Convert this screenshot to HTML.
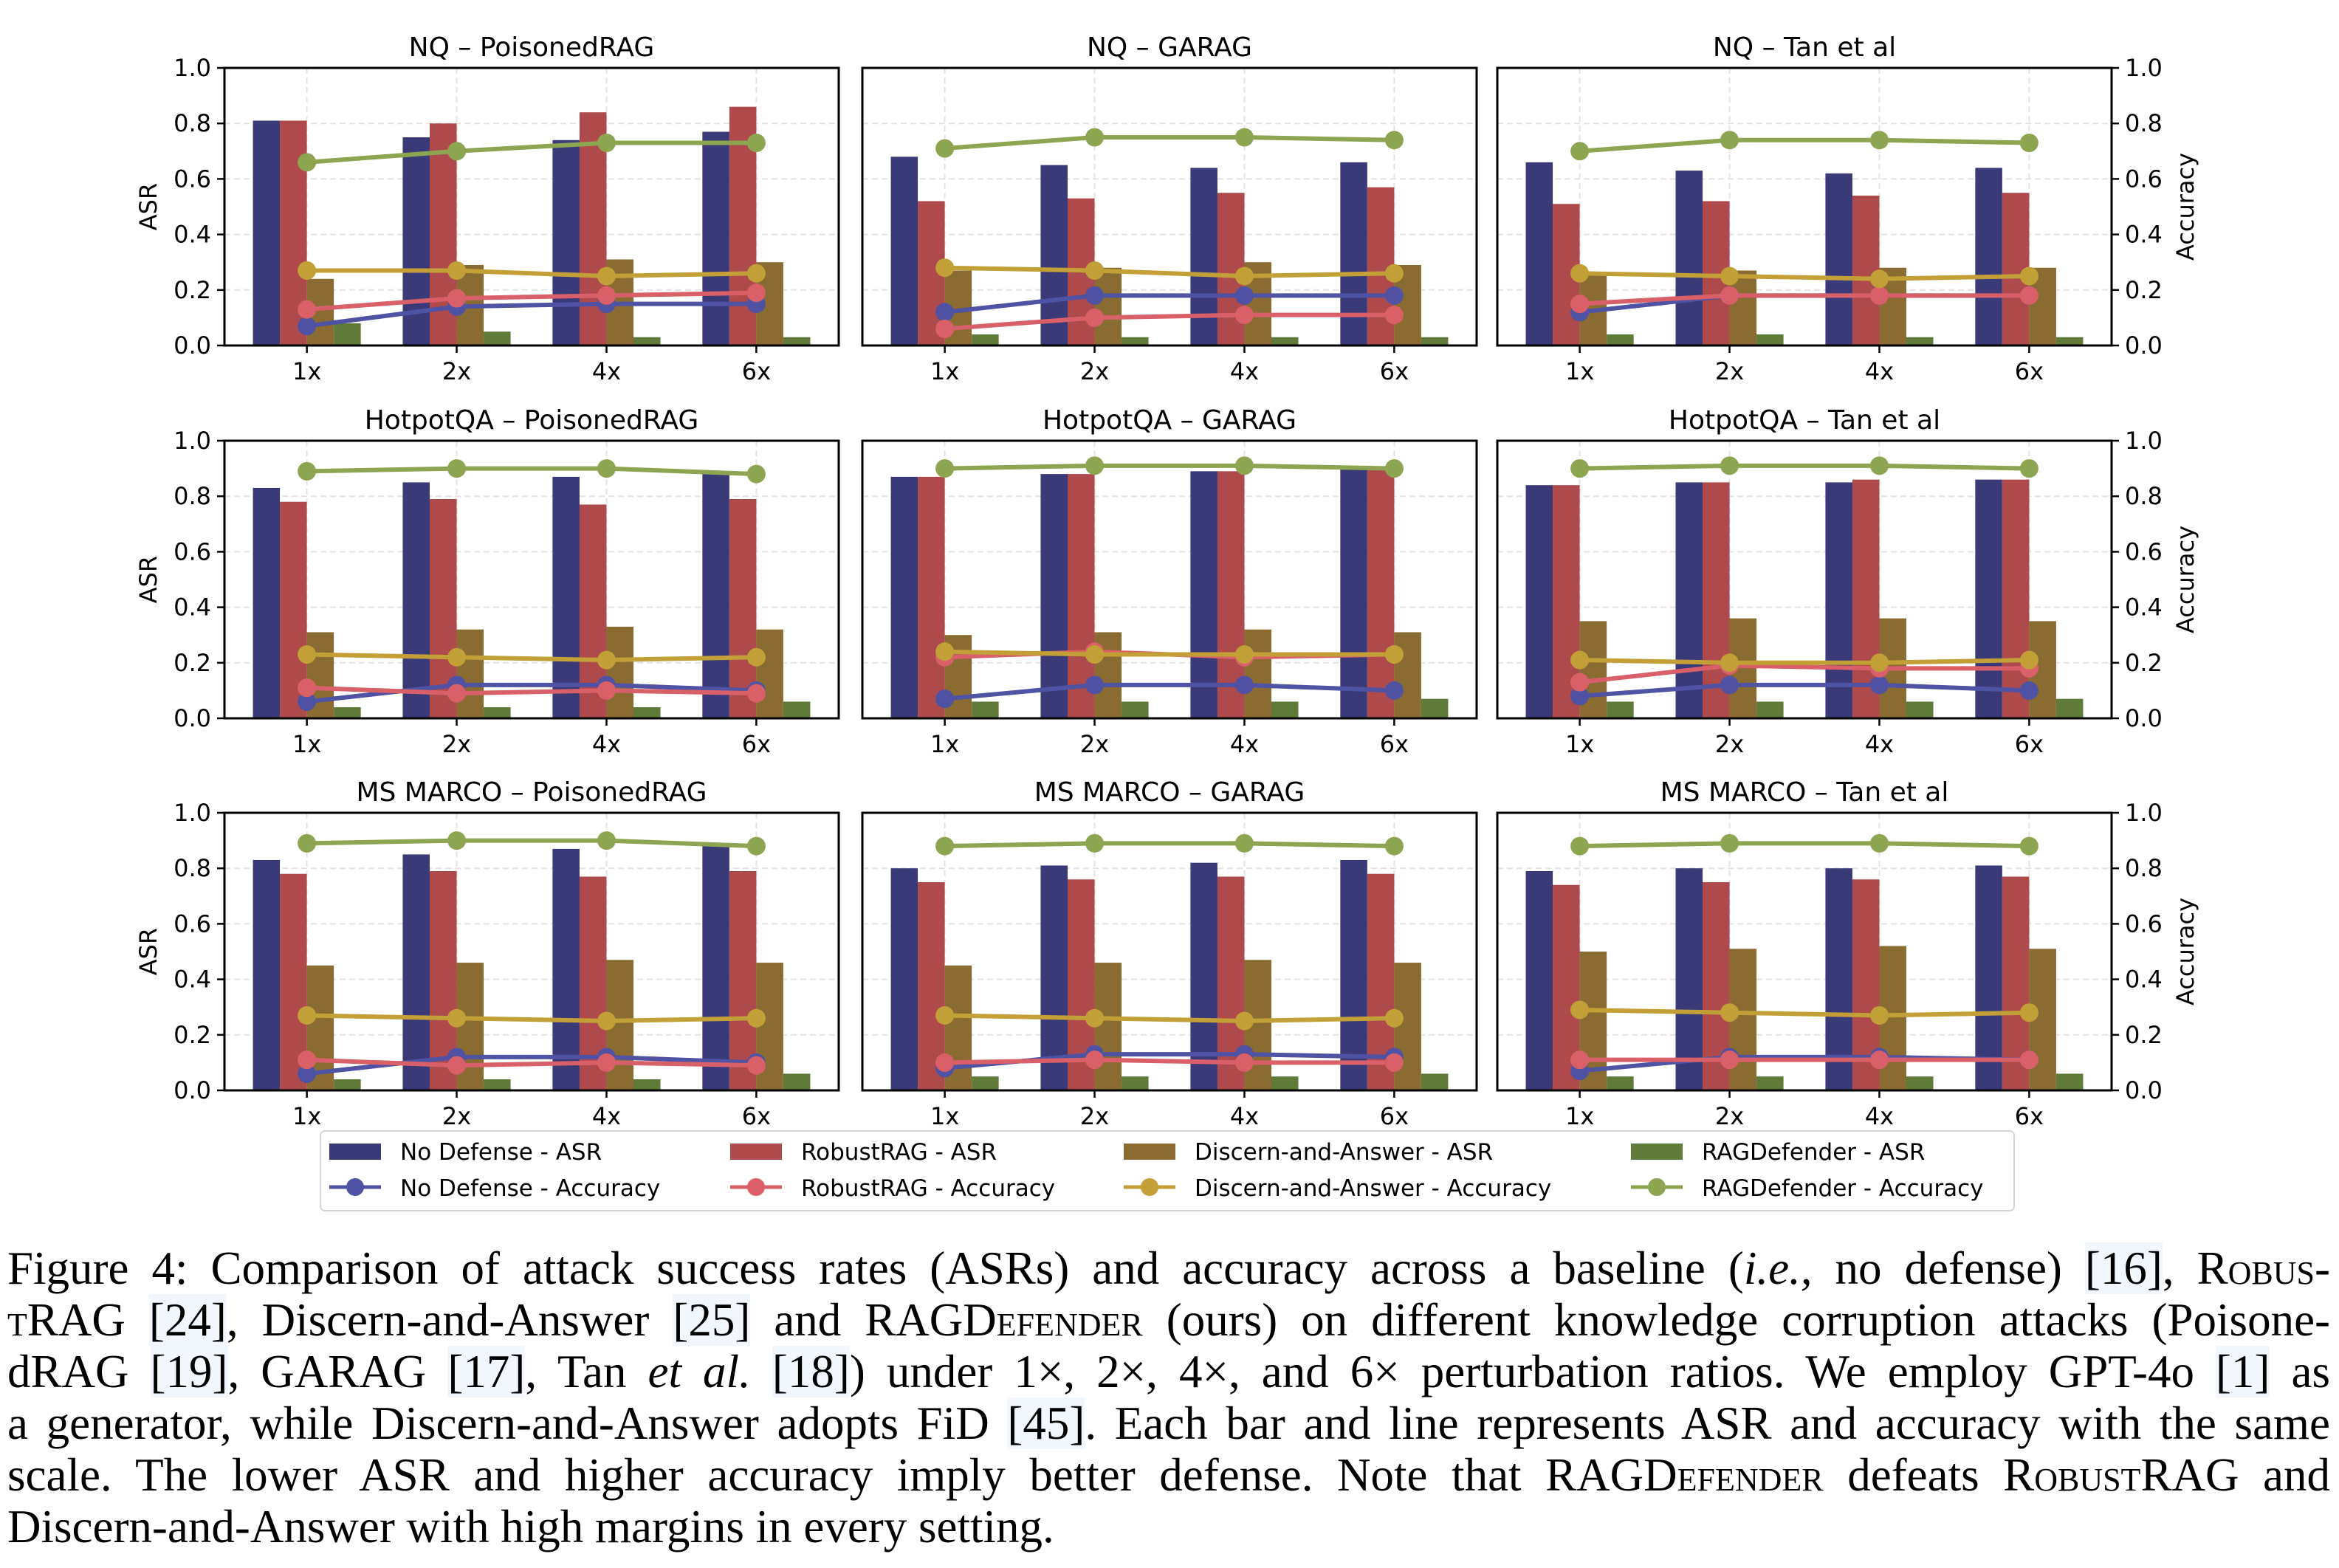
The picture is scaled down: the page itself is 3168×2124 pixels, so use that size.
<!DOCTYPE html>
<html><head><meta charset="utf-8"><style>
body{margin:0;background:#fff;width:3168px;height:2124px;overflow:hidden;position:relative}
svg{position:absolute;left:0;top:0}
.cap{position:absolute;left:10px;width:3146px;font-family:"Liberation Serif",serif;font-size:63px;line-height:70px;text-align:justify;text-align-last:justify;white-space:nowrap;color:#000}
.cap span.sc{font-variant:small-caps}
.cap .ref{background:#f1f7fd}
</style></head><body>
<svg id="fig" width="3168" height="1680" xmlns="http://www.w3.org/2000/svg" font-family="DejaVu Sans, sans-serif"></svg>
<div>
<div class="cap" style="top:1683px">Figure 4: Comparison of attack success rates (ASRs) and accuracy across a baseline (<i>i.e.,</i> no defense) <span class="ref">[16]</span>, <span class="sc">Robus-</span></div>
<div class="cap" style="top:1753px"><span class="sc">tRAG</span> <span class="ref">[24]</span>, Discern-and-Answer <span class="ref">[25]</span> and RAG<span class="sc">Defender</span> (ours) on different knowledge corruption attacks (Poisone-</div>
<div class="cap" style="top:1823px">dRAG <span class="ref">[19]</span>, GARAG <span class="ref">[17]</span>, Tan <i>et al.</i> <span class="ref">[18]</span>) under 1×, 2×, 4×, and 6× perturbation ratios. We employ GPT-4o <span class="ref">[1]</span> as</div>
<div class="cap" style="top:1893px">a generator, while Discern-and-Answer adopts FiD <span class="ref">[45]</span>. Each bar and line represents ASR and accuracy with the same</div>
<div class="cap" style="top:1963px">scale. The lower ASR and higher accuracy imply better defense. Note that RAG<span class="sc">Defender</span> defeats <span class="sc">RobustRAG</span> and</div>
<div class="cap" style="top:2033px;text-align-last:left">Discern-and-Answer with high margins in every setting.</div>
</div>
<script>
const categories = ["1x","2x","4x","6x"];
const yTicks = [0.0,0.2,0.4,0.6,0.8,1.0];
const titles = ["NQ – PoisonedRAG","NQ – GARAG","NQ – Tan et al","HotpotQA – PoisonedRAG","HotpotQA – GARAG","HotpotQA – Tan et al","MS MARCO – PoisonedRAG","MS MARCO – GARAG","MS MARCO – Tan et al"];
const seriesNames = ["No Defense","RobustRAG","Discern-and-Answer","RAGDefender"];
const asrNoDefense = [[.81,.75,.74,.77],[.68,.65,.64,.66],[.66,.63,.62,.64],[.83,.85,.87,.88],[.87,.88,.89,.90],[.84,.85,.85,.86],[.83,.85,.87,.88],[.80,.81,.82,.83],[.79,.80,.80,.81]];
const asrRobust = [[.81,.80,.84,.86],[.52,.53,.55,.57],[.51,.52,.54,.55],[.78,.79,.77,.79],[.87,.88,.89,.90],[.84,.85,.86,.86],[.78,.79,.77,.79],[.75,.76,.77,.78],[.74,.75,.76,.77]];
const asrDiscern = [[.24,.29,.31,.30],[.27,.28,.30,.29],[.26,.27,.28,.28],[.31,.32,.33,.32],[.30,.31,.32,.31],[.35,.36,.36,.35],[.45,.46,.47,.46],[.45,.46,.47,.46],[.50,.51,.52,.51]];
const asrDefender = [[.08,.05,.03,.03],[.04,.03,.03,.03],[.04,.04,.03,.03],[.04,.04,.04,.06],[.06,.06,.06,.07],[.06,.06,.06,.07],[.04,.04,.04,.06],[.05,.05,.05,.06],[.05,.05,.05,.06]];
const accNoDefense = [[.07,.14,.15,.15],[.12,.18,.18,.18],[.12,.18,.18,.18],[.06,.12,.12,.10],[.07,.12,.12,.10],[.08,.12,.12,.10],[.06,.12,.12,.10],[.08,.13,.13,.12],[.07,.12,.12,.11]];
const accRobust = [[.13,.17,.18,.19],[.06,.10,.11,.11],[.15,.18,.18,.18],[.11,.09,.10,.09],[.22,.24,.22,.23],[.13,.19,.18,.18],[.11,.09,.10,.09],[.10,.11,.10,.10],[.11,.11,.11,.11]];
const accDiscern = [[.27,.27,.25,.26],[.28,.27,.25,.26],[.26,.25,.24,.25],[.23,.22,.21,.22],[.24,.23,.23,.23],[.21,.20,.20,.21],[.27,.26,.25,.26],[.27,.26,.25,.26],[.29,.28,.27,.28]];
const accDefender = [[.66,.70,.73,.73],[.71,.75,.75,.74],[.70,.74,.74,.73],[.89,.90,.90,.88],[.90,.91,.91,.90],[.90,.91,.91,.90],[.89,.90,.90,.88],[.88,.89,.89,.88],[.88,.89,.89,.88]];

const barColors=["#3a3a78","#ae4a4c","#8a6c32","#5f7a39"];
const lineColors=["#5053a3","#d95f69","#c2a037","#8da450"];
const NS="http://www.w3.org/2000/svg";
const svg=document.getElementById('fig');
function mk(tag,attrs,parent){const e=document.createElementNS(NS,tag);for(const k in attrs)e.setAttribute(k,attrs[k]);(parent||svg).appendChild(e);return e;}
const colX=[304,1168,2028], rowY=[92,597,1101], W=832, H=376;
const asrAll=[asrNoDefense,asrRobust,asrDiscern,asrDefender];
const accAll=[accNoDefense,accRobust,accDiscern,accDefender];
for(let p=0;p<9;p++){
  const r=Math.floor(p/3), c=p%3, L=colX[c], T=rowY[r];
  const g=mk('g',{});
  
  
  const xs=i=>L+(i+0.55)/4.1*W;
  const ys=v=>T+H-v*H;
  yTicks.forEach(t=>{const l=mk('line',{x1:L,x2:L+W,y1:ys(t),y2:ys(t),stroke:'#e3e3e3','stroke-width':2,'stroke-dasharray':'8,5'},g);});
  categories.forEach((cat,i)=>{const l=mk('line',{x1:xs(i),x2:xs(i),y1:T,y2:T+H,stroke:'#e3e3e3','stroke-width':2,'stroke-dasharray':'8,5'},g);});
  const bw=0.18/4.1*W;
  for(let s=0;s<4;s++){
    categories.forEach((cat,i)=>{const v=asrAll[s][p][i];
      const b=mk('rect',{x:xs(i)+(s-2)*bw,y:ys(v),width:bw,height:v*H,fill:barColors[s]},g);
      
      });
  }
  for(let s=0;s<4;s++){
    const pts=categories.map((cat,i)=>xs(i)+','+ys(accAll[s][p][i])).join(' ');
    const pl=mk('polyline',{points:pts,fill:'none',stroke:lineColors[s],'stroke-width':6},g);
    
    
    categories.forEach((cat,i)=>{const m=mk('circle',{cx:xs(i),cy:ys(accAll[s][p][i]),r:12.5,fill:lineColors[s]},g);
      
      });
  }
  mk('rect',{x:L,y:T,width:W,height:H,fill:'none',stroke:'#000','stroke-width':3},g);
  categories.forEach((cat,i)=>{mk('line',{x1:xs(i),x2:xs(i),y1:T+H,y2:T+H+10,stroke:'#000','stroke-width':2.5},g);
    const t=mk('text',{x:xs(i),y:T+H+46,'font-size':32,'text-anchor':'middle'},g);t.textContent=cat;
    });
  if(c===0){yTicks.forEach(v=>{mk('line',{x1:L-10,x2:L,y1:ys(v),y2:ys(v),stroke:'#000','stroke-width':2.5},g);
    const t=mk('text',{x:L-18,y:ys(v)+11,'font-size':32,'text-anchor':'end'},g);t.textContent=v.toFixed(1);
    });
    const a=mk('text',{x:0,y:0,'font-size':32,'text-anchor':'middle',transform:`translate(212,${T+H/2}) rotate(-90)`},g);a.textContent='ASR';
    }
  if(c===2){yTicks.forEach(v=>{mk('line',{x1:L+W,x2:L+W+10,y1:ys(v),y2:ys(v),stroke:'#000','stroke-width':2.5},g);
    const t=mk('text',{x:L+W+18,y:ys(v)+11,'font-size':32,'text-anchor':'start'},g);t.textContent=v.toFixed(1);
    });
    const a=mk('text',{x:0,y:0,'font-size':32,'text-anchor':'middle',transform:`translate(2971,${T+H/2}) rotate(-90)`},g);a.textContent='Accuracy';
    }
  const tt=mk('text',{x:L+W/2,y:T-16,'font-size':36,'text-anchor':'middle'},g);tt.textContent=titles[p];
  
}
const lg=mk('g',{});


mk('rect',{x:434,y:1532,width:2294,height:108,rx:6,fill:'#fff',stroke:'#d4d4d4','stroke-width':2},lg);
const lx=[446,989,1522,2209];
for(let s=0;s<4;s++){
  mk('rect',{x:lx[s],y:1549,width:70,height:22,fill:barColors[s]},lg);
  const t1=mk('text',{x:lx[s]+96,y:1571,'font-size':31},lg);t1.textContent=seriesNames[s]+' - ASR';
  
  mk('line',{x1:lx[s],x2:lx[s]+70,y1:1608,y2:1608,stroke:lineColors[s],'stroke-width':5},lg);
  mk('circle',{cx:lx[s]+35,cy:1608,r:12,fill:lineColors[s]},lg);
  const t2=mk('text',{x:lx[s]+96,y:1620,'font-size':31},lg);t2.textContent=seriesNames[s]+' - Accuracy';
  
}
</script>
</body></html>
